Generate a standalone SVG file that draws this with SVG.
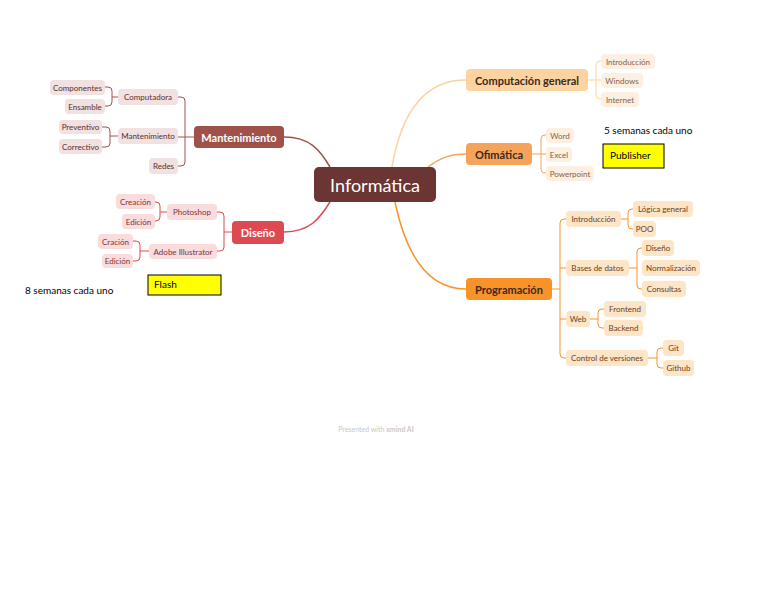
<svg xmlns="http://www.w3.org/2000/svg" width="768" height="594" viewBox="0 0 768 594">
<style>
text{font-family:Lato,"Noto Sans",sans-serif}
.l{font-size:8px;text-anchor:middle;dominant-baseline:central}
.m{font-size:11px;text-anchor:middle;dominant-baseline:central;font-weight:bold}
.c{fill:none;stroke-width:1.5}
.lm rect{fill:#f1e1e0}.lm text{fill:#5a2e2c}
.ld rect{fill:#fadcdc}.ld text{fill:#7a3438}
.lo rect{fill:#fdf0e2}.lo text{fill:#8a6040}
.lp rect{fill:#fde5c8}.lp text{fill:#6a4020}
</style>
<rect width="768" height="594" fill="#fff"/>
<g id="connectors">
<path class="c" stroke="#a0524a" d="M284,137 C310,137 320,150 330,167"/>
<path class="c" stroke="#dc4a52" d="M284,232 C310,232 320,218 330,202"/>
<path class="c" stroke="#fdd3a0" d="M392,167 C400,120 420,80 466,80"/>
<path class="c" stroke="#f5a35a" d="M428,167 C440,158 450,154 466,154"/>
<path class="c" stroke="#f8932a" d="M395,202 C405,250 425,289 466,289"/>
<g stroke="#a0524a" fill="none" stroke-width="1">
<path d="M194,137 H178 M178,97 H181 Q185,97 185,101 V162 Q185,166 181,166 H178"/>
<path d="M118,97 H112 M105,87 H108 Q112,87 112,91 V102 Q112,106 108,106 H105"/>
<path d="M118,136 H110 M102,127 H106 Q110,127 110,131 V143 Q110,147 106,147 H102"/>
</g>
<g stroke="#dc4a52" fill="none" stroke-width="1">
<path d="M232,232 H224 M217,212 H220 Q224,212 224,216 V247 Q224,251 220,251 H217"/>
<path d="M167,212 H160 M155,202 H156 Q160,202 160,206 V217 Q160,221 156,221 H155"/>
<path d="M149,251 H140 M133,241 H136 Q140,241 140,245 V257 Q140,261 136,261 H133"/>
</g>
<g stroke="#fdd3a0" fill="none" stroke-width="1">
<path d="M588,80 H601 M601,61 H600 Q596,61 596,65 V95 Q596,99 600,99 H601"/>
</g>
<g stroke="#f5a35a" fill="none" stroke-width="1">
<path d="M532,154 H546 M546,135 H545 Q541,135 541,139 V169 Q541,173 545,173 H546"/>
</g>
<g stroke="#f8932a" fill="none" stroke-width="1">
<path d="M552,289 H560 M566,219 H564 Q560,219 560,223 V354 Q560,358 564,358 H566 M560,268 H566 M560,319 H566"/>
<path d="M621,219 H628 M633,209 H632 Q628,209 628,213 V225 Q628,229 632,229 H633"/>
<path d="M629,268 H637 M642,248 H641 Q637,248 637,252 V285 Q637,289 641,289 H642"/>
<path d="M590,319 H598 M604,309 H602 Q598,309 598,313 V324 Q598,328 602,328 H604"/>
<path d="M648,358 H657 M663,348 H661 Q657,348 657,352 V364 Q657,368 661,368 H663"/>
</g>
</g>
<g id="center"><rect x="314" y="167" width="122" height="35" rx="5" fill="#6b3533"/><text x="375" y="185" font-size="18" fill="#fff" text-anchor="middle" dominant-baseline="central">Informática</text></g>
<g id="mantenimiento"><rect x="194" y="126" width="90" height="22" rx="4" fill="#a0524a"/><text class="m" x="239" y="137" fill="#fff">Mantenimiento</text></g>
<g id="diseno"><rect x="232" y="221" width="52" height="23" rx="4" fill="#dc4a52"/><text class="m" x="258" y="232" fill="#fff">Diseño</text></g>
<g id="computacion"><rect x="466" y="69" width="122" height="22" rx="4" fill="#fdd3a0"/><text class="m" x="527" y="80" fill="#3a2a1a">Computación general</text></g>
<g id="ofimatica"><rect x="466" y="143" width="66" height="22" rx="4" fill="#f5a35a"/><text class="m" x="499" y="154" fill="#3a2a1a">Ofimática</text></g>
<g id="programacion"><rect x="466" y="278" width="86" height="22" rx="4" fill="#f8932a"/><text class="m" x="509" y="289" fill="#3a2a1a">Programación</text></g>
<g class="lm">
<g id="computadora"><rect x="118" y="89" width="60" height="16" rx="4"/><text class="l" x="148" y="97">Computadora</text></g>
<g id="mant2"><rect x="118" y="128" width="60" height="16" rx="4"/><text class="l" x="148" y="136">Mantenimiento</text></g>
<g id="redes"><rect x="149" y="158" width="29" height="16" rx="4"/><text class="l" x="163.5" y="166">Redes</text></g>
<g id="componentes"><rect x="50" y="80" width="55" height="15" rx="4"/><text class="l" x="77.5" y="87.5">Componentes</text></g>
<g id="ensamble"><rect x="65" y="99" width="40" height="15" rx="4"/><text class="l" x="85" y="106.5">Ensamble</text></g>
<g id="preventivo"><rect x="59" y="120" width="43" height="14" rx="4"/><text class="l" x="80.5" y="127">Preventivo</text></g>
<g id="correctivo"><rect x="59" y="139" width="43" height="15" rx="4"/><text class="l" x="80.5" y="146.5">Correctivo</text></g>
</g>
<g class="ld">
<g id="photoshop"><rect x="167" y="204" width="50" height="16" rx="4"/><text class="l" x="192" y="212">Photoshop</text></g>
<g id="illustrator"><rect x="149" y="244" width="68" height="15" rx="4"/><text class="l" x="183" y="251.5">Adobe Illustrator</text></g>
<g id="creacion"><rect x="116" y="194" width="39" height="15" rx="4"/><text class="l" x="135.5" y="201.5">Creación</text></g>
<g id="edicion1"><rect x="122" y="214" width="33" height="15" rx="4"/><text class="l" x="138.5" y="221.5">Edición</text></g>
<g id="cracion"><rect x="98" y="234" width="35" height="15" rx="4"/><text class="l" x="115.5" y="241.5">Cración</text></g>
<g id="edicion2"><rect x="102" y="254" width="31" height="14" rx="4"/><text class="l" x="117.5" y="261">Edición</text></g>
</g>
<g class="lo">
<g id="intro1"><rect x="601" y="54" width="54" height="15" rx="4"/><text class="l" x="628" y="61.5">Introducción</text></g>
<g id="windows"><rect x="601" y="73" width="42" height="15" rx="4"/><text class="l" x="622" y="80.5">Windows</text></g>
<g id="internet"><rect x="601" y="92" width="38" height="15" rx="4"/><text class="l" x="620" y="99.5">Internet</text></g>
<g id="word"><rect x="546" y="128" width="28" height="15" rx="4"/><text class="l" x="560" y="135.5">Word</text></g>
<g id="excel"><rect x="546" y="147" width="26" height="15" rx="4"/><text class="l" x="559" y="154.5">Excel</text></g>
<g id="powerpoint"><rect x="546" y="166" width="48" height="15" rx="4"/><text class="l" x="570" y="173.5">Powerpoint</text></g>
</g>
<g class="lp">
<g id="intro2"><rect x="566" y="211" width="55" height="16" rx="4"/><text class="l" x="593.5" y="219">Introducción</text></g>
<g id="bases"><rect x="566" y="260" width="63" height="16" rx="4"/><text class="l" x="597.5" y="268">Bases de datos</text></g>
<g id="web"><rect x="566" y="311" width="24" height="16" rx="4"/><text class="l" x="578" y="319">Web</text></g>
<g id="control"><rect x="566" y="350" width="82" height="16" rx="4"/><text class="l" x="607" y="358">Control de versiones</text></g>
<g id="logica"><rect x="633" y="201" width="60" height="16" rx="4"/><text class="l" x="663" y="209">Lógica general</text></g>
<g id="poo"><rect x="633" y="221" width="23" height="16" rx="4"/><text class="l" x="644.5" y="229">POO</text></g>
<g id="diseno2"><rect x="642" y="240" width="32" height="16" rx="4"/><text class="l" x="658" y="248">Diseño</text></g>
<g id="normalizacion"><rect x="642" y="260" width="58" height="16" rx="4"/><text class="l" x="671" y="268">Normalización</text></g>
<g id="consultas"><rect x="642" y="281" width="44" height="16" rx="4"/><text class="l" x="664" y="289">Consultas</text></g>
<g id="frontend"><rect x="604" y="301" width="42" height="16" rx="4"/><text class="l" x="625" y="309">Frontend</text></g>
<g id="backend"><rect x="604" y="320" width="39" height="16" rx="4"/><text class="l" x="623.5" y="328">Backend</text></g>
<g id="git"><rect x="663" y="340" width="21" height="16" rx="4"/><text class="l" x="673.5" y="348">Git</text></g>
<g id="github"><rect x="663" y="360" width="31" height="16" rx="4"/><text class="l" x="678.5" y="368">Github</text></g>
</g>
<g id="notes" font-size="10">
<text x="604" y="134" fill="#000">5 semanas cada uno</text>
<rect x="603" y="144" width="61" height="24" fill="#ffff00" stroke="#000"/>
<text x="610" y="159" fill="#000">Publisher</text>
<text x="25" y="294" fill="#000">8 semanas cada uno</text>
<rect x="148" y="275" width="73" height="20" fill="#ffff00" stroke="#000"/>
<text x="154" y="288" fill="#000">Flash</text>
<text x="376" y="432" font-size="7" fill="#c8c8c8" text-anchor="middle">Presented with <tspan font-weight="bold">xmind AI</tspan></text>
</g>
</svg>
